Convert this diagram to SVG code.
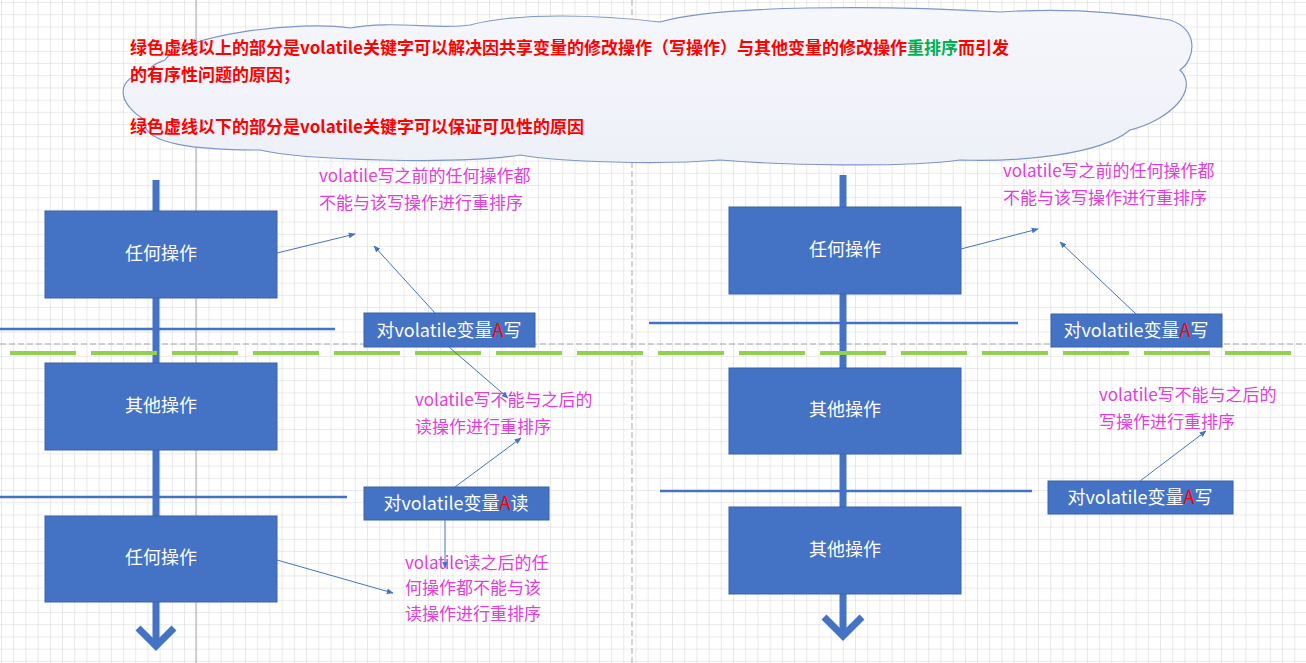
<svg xmlns="http://www.w3.org/2000/svg" width="1306" height="663" viewBox="0 0 1306 663">
<defs>
<pattern id="g" width="12.2" height="12.2" patternUnits="userSpaceOnUse" x="2" y="3"><path d="M12.2 0V12.2H0" fill="none" stroke="#d4d4d4" stroke-width="1"/></pattern>
<linearGradient id="cg" x1="0" y1="0" x2="0" y2="1"><stop offset="0" stop-color="#f6f7fc"/><stop offset="1" stop-color="#eef0f8"/></linearGradient>
<marker id="a" viewBox="0 0 10 10" refX="9" refY="5" markerWidth="7" markerHeight="7" orient="auto"><path d="M0 1L10 5L0 9z" fill="#4472c4"/></marker>
</defs>
<style>
.box{fill:#4472c4;stroke:#3a62a8;stroke-width:1}
.bt{font-family:"Noto Sans CJK SC","Noto Sans",sans-serif;font-size:18px;fill:#fff;text-anchor:middle}
.pt{font-family:"Noto Sans CJK SC","Noto Sans",sans-serif;font-size:17px;fill:#e040d8}
.rt{font-family:"Noto Sans CJK SC",sans-serif;font-size:17px;font-weight:bold;fill:#ff0000}
.c{stroke:#4472c4;stroke-width:1;fill:none;marker-end:url(#a)}
.h{stroke:#4472c4;stroke-width:2.5}
.sp{stroke:#4472c4;stroke-width:7}
</style>
<rect width="1306" height="663" fill="#fff"/>
<rect width="1306" height="663" fill="url(#g)"/>
<line x1="196" y1="0" x2="196" y2="663" stroke="#a8a8a8"/>
<line x1="632" y1="0" x2="632" y2="663" stroke="#a8a8a8" stroke-dasharray="6,3"/>
<line x1="0" y1="344" x2="1306" y2="344" stroke="#a8a8a8" stroke-dasharray="6,3"/>
<g id="cloud">
<path d="M165 60 C180 35 300 20 350 28 C390 20 440 30 470 25 C520 12 600 15 660 22 C720 5 880 5 1000 12 C1060 8 1120 12 1170 20 C1200 30 1195 60 1180 70 C1200 90 1170 120 1130 130 C1100 155 1020 162 960 160 C900 168 780 165 720 160 C660 165 560 162 520 155 C460 165 300 160 260 150 C200 150 140 145 145 120 C120 105 110 80 150 70 C150 65 160 62 165 60Z" fill="url(#cg)" stroke="#7d95c8" stroke-width="1.2"/>
</g>
<g id="cloudtext">
<text class="rt" x="130" y="54">绿色虚线以上的部分是volatile关键字可以解决因共享变量的修改操作（写操作）与其他变量的修改操作<tspan fill="#00b050">重排序</tspan>而引发</text>
<text class="rt" x="130" y="81">的有序性问题的原因；</text>
<text class="rt" x="130" y="133">绿色虚线以下的部分是volatile关键字可以保证可见性的原因</text>
</g>
<g id="spines">
<line class="sp" x1="156" y1="180" x2="156" y2="645"/>
<path d="M138 628L156 646L174 628" class="sp" fill="none"/>
<line class="sp" x1="843" y1="175" x2="843" y2="635"/>
<path d="M824 617L843 636L862 617" class="sp" fill="none"/>
</g>
<g id="hlines">
<line class="h" x1="0" y1="329" x2="335" y2="329"/>
<line class="h" x1="0" y1="497" x2="347" y2="497"/>
<line class="h" x1="649" y1="323" x2="1018" y2="323"/>
<line class="h" x1="660" y1="491" x2="1032" y2="491"/>
</g>
<line x1="10" y1="353" x2="1306" y2="353" stroke="#92d050" stroke-width="4" stroke-dasharray="66,15"/>
<g id="n1"><rect class="box" x="45" y="211" width="232" height="87"/><text class="bt" x="161" y="260">任何操作</text></g>
<g id="n2"><rect class="box" x="45" y="363" width="232" height="87"/><text class="bt" x="161" y="412">其他操作</text></g>
<g id="n3"><rect class="box" x="45" y="516" width="232" height="86"/><text class="bt" x="161" y="564">任何操作</text></g>
<g id="n4"><rect class="box" x="364" y="313" width="171" height="34"/><text class="bt" x="449" y="337">对volatile变量<tspan fill="#ff0000">A</tspan>写</text></g>
<g id="n5"><rect class="box" x="364" y="487" width="185" height="33"/><text class="bt" x="456" y="510">对volatile变量<tspan fill="#ff0000">A</tspan>读</text></g>
<g id="n6"><rect class="box" x="729" y="207" width="232" height="87"/><text class="bt" x="845" y="256">任何操作</text></g>
<g id="n7"><rect class="box" x="729" y="368" width="232" height="86"/><text class="bt" x="845" y="416">其他操作</text></g>
<g id="n8"><rect class="box" x="729" y="507" width="232" height="87"/><text class="bt" x="845" y="556">其他操作</text></g>
<g id="n9"><rect class="box" x="1051" y="314" width="171" height="33"/><text class="bt" x="1136" y="337">对volatile变量<tspan fill="#ff0000">A</tspan>写</text></g>
<g id="n10"><rect class="box" x="1048" y="481" width="185" height="33"/><text class="bt" x="1140" y="504">对volatile变量<tspan fill="#ff0000">A</tspan>写</text></g>
<g id="labels">
<text class="pt" x="319" y="182">volatile写之前的任何操作都</text>
<text class="pt" x="319" y="209">不能与该写操作进行重排序</text>
<text class="pt" x="415" y="406">volatile写不能与之后的</text>
<text class="pt" x="415" y="433">读操作进行重排序</text>
<text class="pt" x="405" y="569">volatile读之后的任</text>
<text class="pt" x="405" y="594">何操作都不能与该</text>
<text class="pt" x="405" y="620">读操作进行重排序</text>
<text class="pt" x="1003" y="177">volatile写之前的任何操作都</text>
<text class="pt" x="1003" y="204">不能与该写操作进行重排序</text>
<text class="pt" x="1099" y="401">volatile写不能与之后的</text>
<text class="pt" x="1099" y="428">写操作进行重排序</text>
</g>
<g id="connectors">
<path class="c" d="M277 253L355 234"/>
<path class="c" d="M435 313L374 246"/>
<path class="c" d="M449 347L508 398"/>
<path class="c" d="M455 487L521 438"/>
<path class="c" d="M445 520L445 568"/>
<path class="c" d="M277 560L393 593"/>
<path class="c" d="M961 249L1038 229"/>
<path class="c" d="M1136 314L1060 242"/>
<path class="c" d="M1140 481L1206 431"/>
</g>
</svg>
